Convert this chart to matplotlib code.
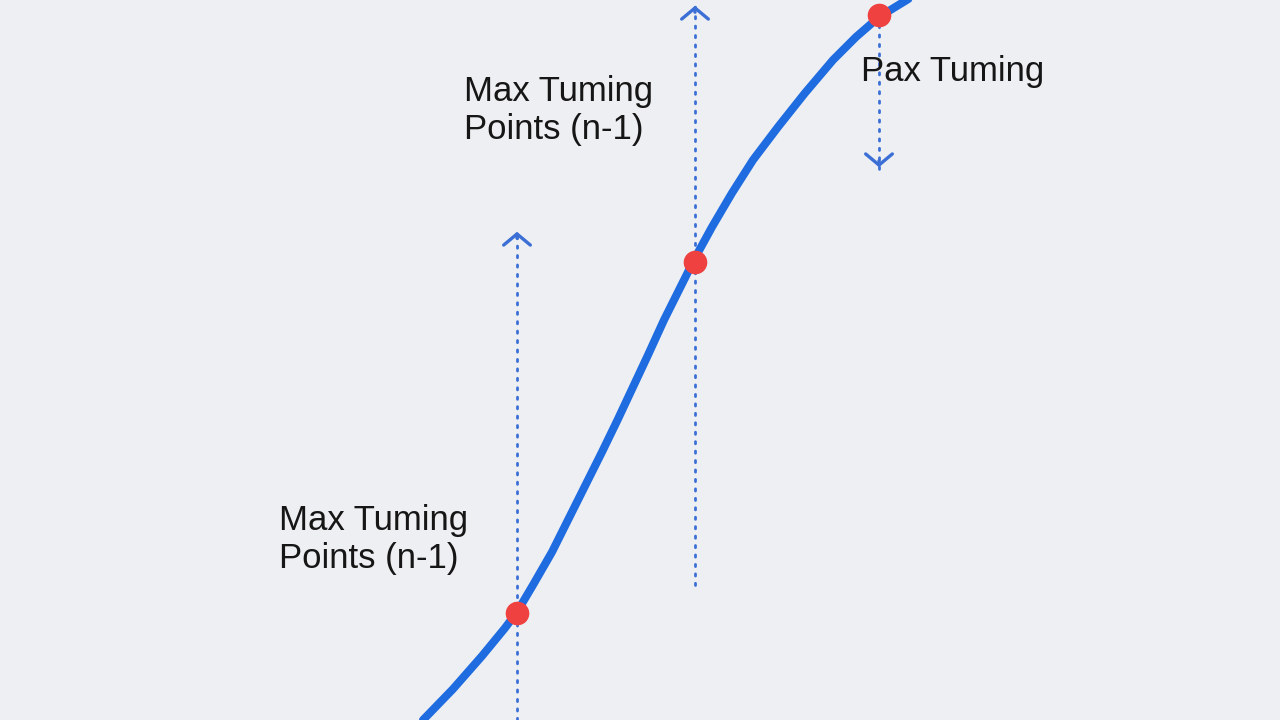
import matplotlib.pyplot as plt

# curve (x, y in chart units, y up)
curve_x = [4.23, 4.53, 4.82, 5.05, 5.17, 5.33, 5.52, 5.68, 5.85, 6.02, 6.18, 6.33, 6.48,
           6.64, 6.80, 6.95, 7.12, 7.32, 7.53, 7.78, 8.05, 8.33, 8.56, 8.79, 9.10, 9.35]
curve_y = [0.00, 0.31, 0.64, 0.92, 1.08, 1.35, 1.68, 2.00, 2.34, 2.68, 3.01, 3.33, 3.65,
           4.00, 4.32, 4.62, 4.93, 5.27, 5.60, 5.93, 6.27, 6.60, 6.83, 7.03, 7.22, 7.35]

# turning points
point_x = [5.17, 6.95, 8.79]
point_y = [1.07, 4.58, 7.05]

# dotted guide lines: x, start y, tip y
guide_x = [5.17, 6.95, 8.79]
guide_start = [0.00, 1.35, 6.95]
guide_tip = [4.91, 7.17, 5.50]

labels = ["Max Tuming\nPoints (n-1)", "Max Tuming\nPoints (n-1)", "Pax Tuming"]
label_x = [2.79, 4.64, 8.61]
label_y = [2.16, 6.45, 6.65]

bg = "#edeff2"
blue = "#1f6be0"
guide_blue = "#3b6fd6"
red = "#f04141"

fig = plt.figure(figsize=(12.8, 7.2), dpi=100)
fig.patch.set_facecolor(bg)
ax = fig.add_axes([0, 0, 1, 1])
ax.set_facecolor(bg)
ax.set_xlim(0, 12.8)
ax.set_ylim(0, 7.2)
ax.axis("off")

# guides
for gx, gs, gt in zip(guide_x, guide_start, guide_tip):
    ax.plot([gx, gx], [gs, gt], color=guide_blue, lw=2.0,
            linestyle=(0, (0.8, 2.6)), dash_capstyle="round", zorder=1)
    d = 0.12 if gt > gs else -0.12
    ax.annotate("", xy=(gx, gt), xytext=(gx, gt - d),
                arrowprops=dict(arrowstyle="->,head_length=0.5,head_width=0.6",
                                color=guide_blue, lw=2.4, mutation_scale=16),
                zorder=1, annotation_clip=False)

ax.plot(curve_x, curve_y, color=blue, lw=5.8, solid_capstyle="round",
        solid_joinstyle="round", zorder=2)
ax.plot(point_x, point_y, "o", color=red, markersize=16, zorder=3)

for t, lx, ly in zip(labels, label_x, label_y):
    ax.text(lx, ly, t, fontsize=25, family="Liberation Sans", color="#161616",
            ha="left", va="top", linespacing=1.2, zorder=4)

fig.savefig("out.png", dpi=100, facecolor=bg)
